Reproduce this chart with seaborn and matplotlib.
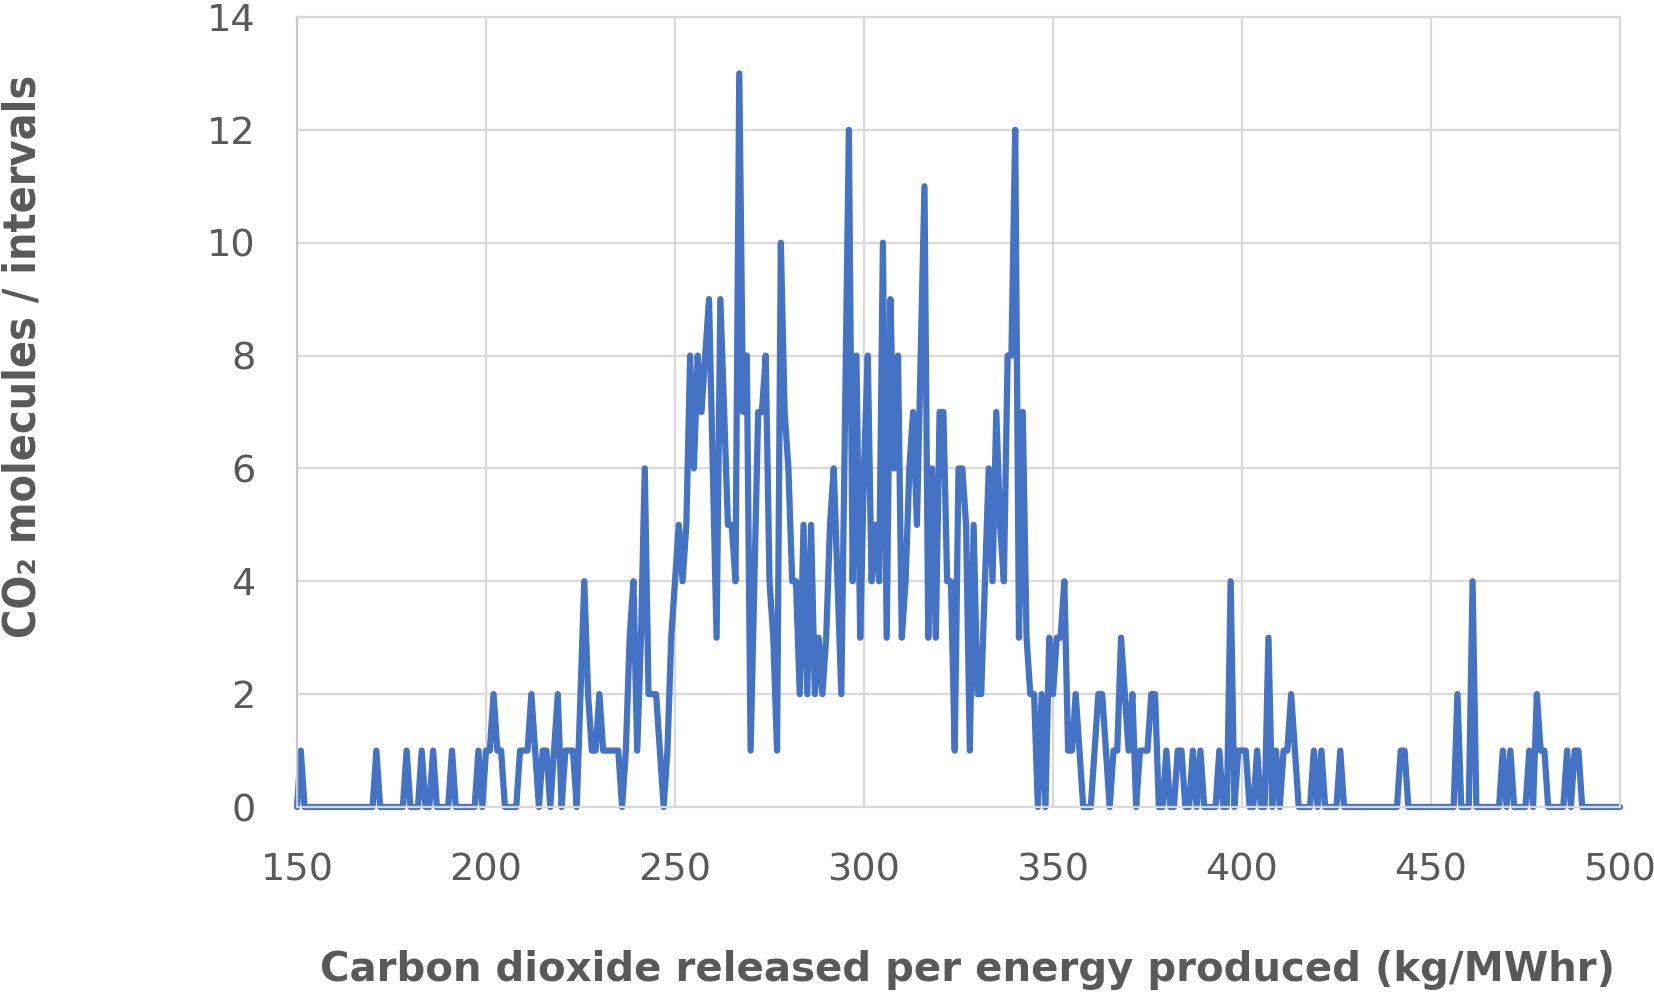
import numpy as np
import pandas as pd
import seaborn as sns
import matplotlib
matplotlib.use('Agg')
import matplotlib.pyplot as plt

# emission rate bins (kg/MWhr), one per unit from 150 to 500
emission = list(range(150, 501))

# counts, grouped by decade of kg/MWhr
counts_150s = [0, 1, 0, 0, 0, 0, 0, 0, 0, 0]
counts_160s = [0, 0, 0, 0, 0, 0, 0, 0, 0, 0]
counts_170s = [0, 1, 0, 0, 0, 0, 0, 0, 0, 1]
counts_180s = [0, 0, 0, 1, 0, 0, 1, 0, 0, 0]
counts_190s = [0, 1, 0, 0, 0, 0, 0, 0, 1, 0]
counts_200s = [1, 1, 2, 1, 1, 0, 0, 0, 0, 1]
counts_210s = [1, 1, 2, 1, 0, 1, 1, 0, 1, 2]
counts_220s = [0, 1, 1, 1, 0, 2, 4, 2, 1, 1]
counts_230s = [2, 1, 1, 1, 1, 1, 0, 1, 3, 4]
counts_240s = [1, 3, 6, 2, 2, 2, 1, 0, 1, 3]
counts_250s = [4, 5, 4, 5, 8, 6, 8, 7, 8, 9]
counts_260s = [6, 3, 9, 7, 5, 5, 4, 13, 7, 8]
counts_270s = [1, 4, 7, 7, 8, 4, 3, 1, 10, 7]
counts_280s = [6, 4, 4, 2, 5, 2, 5, 2, 3, 2]
counts_290s = [3, 5, 6, 4, 2, 7, 12, 4, 8, 3]
counts_300s = [6, 8, 4, 5, 4, 10, 3, 9, 6, 8]
counts_310s = [3, 4, 6, 7, 5, 8, 11, 3, 6, 3]
counts_320s = [7, 7, 4, 4, 1, 6, 6, 5, 1, 5]
counts_330s = [2, 2, 4, 6, 4, 7, 5, 4, 8, 8]
counts_340s = [12, 3, 7, 3, 2, 2, 0, 2, 0, 3]
counts_350s = [2, 3, 3, 4, 1, 1, 2, 1, 0, 0]
counts_360s = [0, 1, 2, 2, 1, 0, 1, 1, 3, 2]
counts_370s = [1, 2, 0, 1, 1, 1, 2, 2, 0, 0]
counts_380s = [1, 0, 0, 1, 1, 0, 0, 1, 0, 1]
counts_390s = [0, 0, 0, 0, 1, 0, 0, 4, 0, 1]
counts_400s = [1, 1, 0, 0, 1, 0, 0, 3, 0, 1]
counts_410s = [0, 1, 1, 2, 1, 0, 0, 0, 0, 1]
counts_420s = [0, 1, 0, 0, 0, 0, 1, 0, 0, 0]
counts_430s = [0, 0, 0, 0, 0, 0, 0, 0, 0, 0]
counts_440s = [0, 0, 1, 1, 0, 0, 0, 0, 0, 0]
counts_450s = [0, 0, 0, 0, 0, 0, 0, 2, 0, 0]
counts_460s = [0, 4, 0, 0, 0, 0, 0, 0, 0, 1]
counts_470s = [0, 1, 0, 0, 0, 0, 1, 0, 2, 1]
counts_480s = [1, 0, 0, 0, 0, 0, 1, 0, 1, 1]
counts_490s = [0, 0, 0, 0, 0, 0, 0, 0, 0, 0]
counts_500 = [0]

counts = (counts_150s + counts_160s + counts_170s + counts_180s + counts_190s
          + counts_200s + counts_210s + counts_220s + counts_230s + counts_240s
          + counts_250s + counts_260s + counts_270s + counts_280s + counts_290s
          + counts_300s + counts_310s + counts_320s + counts_330s + counts_340s
          + counts_350s + counts_360s + counts_370s + counts_380s + counts_390s
          + counts_400s + counts_410s + counts_420s + counts_430s + counts_440s
          + counts_450s + counts_460s + counts_470s + counts_480s + counts_490s
          + counts_500)

x_ticks = [150, 200, 250, 300, 350, 400, 450, 500]
y_ticks = [0, 2, 4, 6, 8, 10, 12, 14]

df = pd.DataFrame({'emission': emission, 'count': counts})

sns.set_theme(style='whitegrid')
plt.rcParams['font.family'] = ['DejaVu Sans']

grid_col = '#d9d9d9'
text_col = '#595959'

fig = plt.figure(figsize=(16.54, 9.99), dpi=100)
ax = fig.add_axes([297 / 1654, 1 - 807 / 999, 1323 / 1654, 790 / 999])

sns.lineplot(data=df, x='emission', y='count', color='#4472C4', linewidth=4.5,
             ax=ax, clip_on=False, solid_capstyle='round', solid_joinstyle='round')

ax.set_xlim(150, 500)
ax.set_ylim(0, 14)
ax.set_xticks(x_ticks)
ax.set_yticks(y_ticks)
ax.tick_params(axis='both', length=0, labelsize=27.5, colors=text_col)
ax.tick_params(axis='x', pad=33)
ax.tick_params(axis='y', pad=30)
ax.grid(True, color=grid_col, linewidth=1.6)
for side in ['left', 'right', 'top', 'bottom']:
    ax.spines[side].set_color(grid_col)
    ax.spines[side].set_linewidth(1.6)
ax.spines['left'].set_color('#c8c8c8')
ax.set_axisbelow(True)

ax.set_xlabel('Carbon dioxide released per energy produced (kg/MWhr)',
              fontsize=29, fontweight='bold', color=text_col, va='center')
ax.xaxis.set_label_coords(0.507, -0.206)
ax.set_ylabel('CO\u2082 molecules / intervals', fontsize=32, fontweight='bold',
              fontstretch='condensed', color=text_col, va='center')
ax.yaxis.set_label_coords(-0.207, 0.571)

fig.savefig('out.png', dpi=100)
